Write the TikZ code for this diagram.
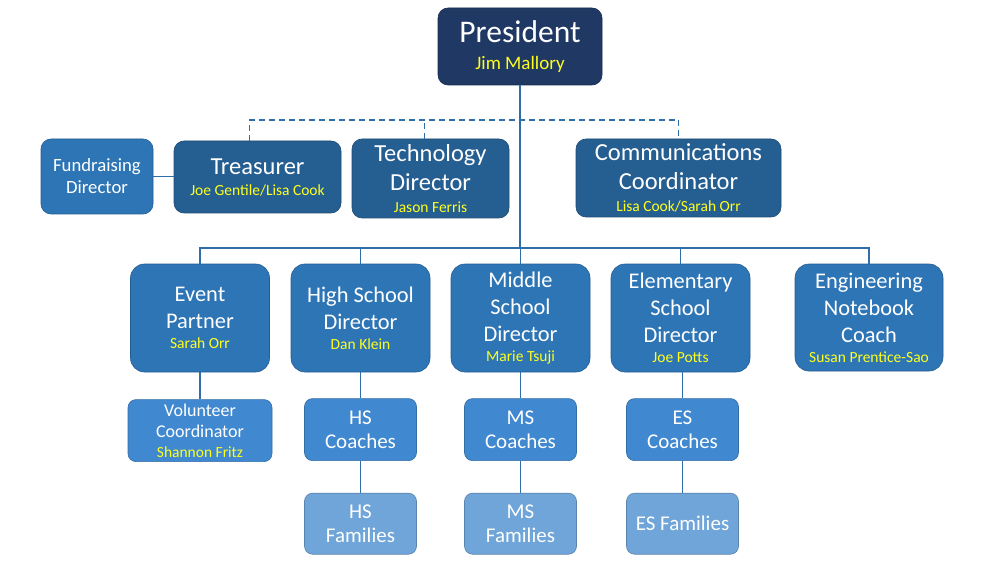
\documentclass[tikz,border=0pt]{standalone}
\usepackage{fontspec}
\setmainfont{Carlito}
\usetikzlibrary{positioning}

\definecolor{navy}{HTML}{1F3864}
\definecolor{staffblue}{HTML}{255E91}
\definecolor{midblue}{HTML}{2E75B6}
\definecolor{coachblue}{HTML}{4088D0}
\definecolor{famblue}{HTML}{6FA5D9}
\definecolor{linkblue}{HTML}{2E6EAB}
\definecolor{nameyellow}{HTML}{FFFF1E}

\newcommand{\who}[2][15.5]{{\color{nameyellow}\fontsize{#1}{#1}\selectfont #2}}

\begin{document}
\begin{tikzpicture}[x=1pt, y=1pt,
    node distance=26pt,
    every node/.style={text=white, align=center, inner sep=1pt},
    wh/.style 2 args={minimum width=#1pt, minimum height=#2pt},
    box/.style={draw=#1!80!black, fill=#1, line width=0.6pt},
    headbox/.style={box=navy, rounded corners=10pt, wh={164}{77}, font=\fontsize{31.5}{34}\selectfont},
    staffbox/.style={box=staffblue, rounded corners=10pt, font=\fontsize{24.5}{29}\selectfont},
    sidebox/.style={box=midblue, rounded corners=10pt, font=\fontsize{18.7}{22}\selectfont},
    dirbox/.style={box=midblue, rounded corners=14pt, wh={139}{108}, font=\fontsize{22.4}{27}\selectfont},
    coachbox/.style={box=coachblue, rounded corners=8pt, wh={112}{62}, font=\fontsize{21}{24}\selectfont},
    famibox/.style={box=famblue, rounded corners=8pt, wh={112}{61}, font=\fontsize{21}{24}\selectfont},
    link/.style={draw=linkblue, line width=1.5pt},
    dashlink/.style={link, dash pattern=on 6pt off 4pt}
]
\fill[white] (0,0) rectangle (1000,-569);
\useasboundingbox (0,0) rectangle (1000,-569);

% top and staff
\node[headbox] (pres) at (520,-46.5) {President\\[-7pt]\who[19]{Jim Mallory}};
\node[sidebox, wh={112}{75}] (fund) at (97,-176.5) {Fundraising\\Director};
\node[staffbox, wh={167}{72}] (treas) at (257.5,-177) {Treasurer\\[-8pt]\who{Joe Gentile/Lisa Cook}};
\node[staffbox, wh={157}{79}] (tech) at (430.5,-178.5) {Technology\\Director\\[-7pt]\who{Jason Ferris}};
\node[staffbox, wh={205}{78}] (comms) at (678.5,-178) {Communications\\Coordinator\\[-7pt]\who{Lisa Cook/Sarah Orr}};

% directors
\node[dirbox] (event) at (200,-318) {Event\\Partner\\[-7pt]\who{Sarah Orr}};
\node[dirbox] (hsdir) at (360.5,-318) {High School\\Director\\[-7pt]\who{Dan Klein}};
\node[dirbox] (msdir) at (520.5,-318) {Middle\\School\\Director\\[-7pt]\who{Marie Tsuji}};
\node[dirbox] (esdir) at (680.5,-318) {Elementary\\School\\Director\\[-7pt]\who{Joe Potts}};
\node[dirbox, wh={148}{107}] (eng) at (869,-317.5) {Engineering\\Notebook\\Coach\\[-7pt]\who{Susan Prentice-Sao}};

% coaches and families
\node[coachbox, below=27pt of event, wh={144}{62}, font=\fontsize{18}{21}\selectfont] (vol) {Volunteer\\Coordinator\\[-1pt]\who{Shannon Fritz}};
\node[coachbox, below=of hsdir] (hscoach) {HS\\Coaches};
\node[coachbox, below=of msdir] (mscoach) {MS\\Coaches};
\node[coachbox, below=of esdir, xshift=2pt] (escoach) {ES\\Coaches};
\node[famibox, below=32pt of hscoach] (hsfam) {HS\\Families};
\node[famibox, below=32pt of mscoach] (msfam) {MS\\Families};
\node[famibox, below=32pt of escoach] (esfam) {ES Families};

% connectors
\coordinate (bus) at (520,-248);
\coordinate (dash) at (520,-120);
\draw[link] (pres) -- (bus);
\draw[link] (event.north) |- (bus) -| (eng.north);
\foreach \d in {hsdir, msdir, esdir}
    \draw[link] (\d.north) -- (\d.north |- bus);
\draw[dashlink] ([xshift=-8pt]treas.north) |- (dash) -| (comms.north);
\draw[dashlink] ([xshift=-6pt]tech.north) -- ([xshift=-6pt]tech.north |- dash);
\draw[link] (fund.east) -- (fund.east -| treas.west);
\draw[link] (event) -- (vol);
\foreach \d/\c/\f in {hsdir/hscoach/hsfam, msdir/mscoach/msfam}
    \draw[link] (\d) -- (\c) -- (\f);
\draw[link] (escoach.north) -- (escoach.north |- esdir.south);
\draw[link] (escoach) -- (esfam);
\end{tikzpicture}
\end{document}
